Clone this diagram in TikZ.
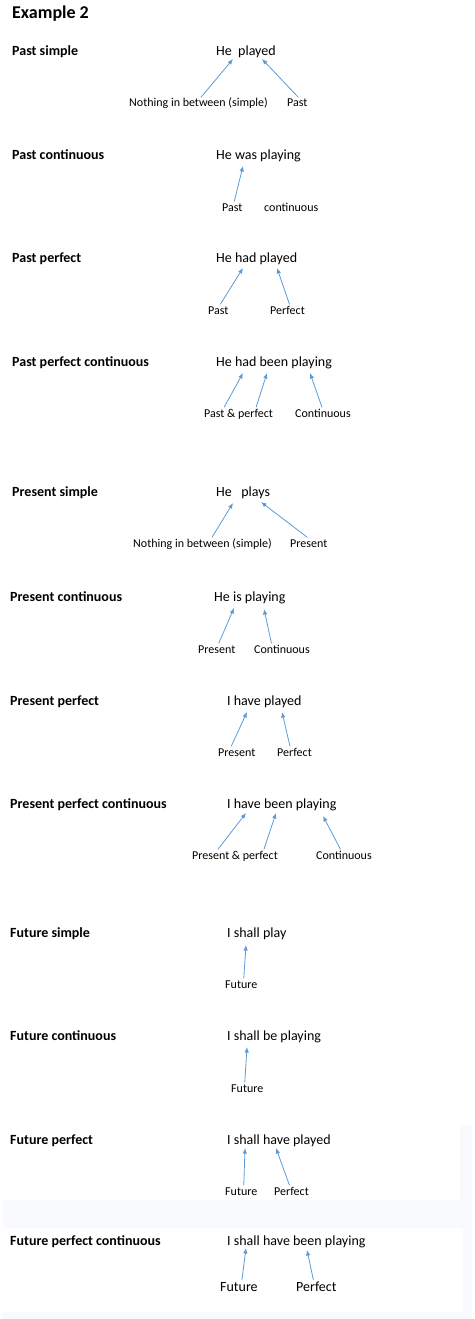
\documentclass[tikz,border=0pt]{standalone}
\usepackage{fontspec}
\setmainfont{Carlito}
\usepackage{tikz}
\usetikzlibrary{arrows.meta}
\definecolor{arrowblue}{RGB}{91,155,213}
\definecolor{panel}{RGB}{249,250,253}

\begin{document}
\begin{tikzpicture}[x=1pt,y=-1pt,
  head/.style={anchor=base west,inner sep=0pt,font=\fontsize{14}{16}\selectfont\bfseries},
  sent/.style={anchor=base west,inner sep=0pt,font=\fontsize{14}{17}\selectfont},
  lbl/.style={anchor=base west,inner sep=1pt,text height=8.5pt,text depth=2pt,font=\fontsize{12}{14}\selectfont},
  biglbl/.style={lbl,text height=10pt,font=\fontsize{14}{17}\selectfont},
  arr/.style={draw=arrowblue,line width=0.8pt,-{Latex[length=5.5pt,width=4.5pt]}}]

\useasboundingbox (0,0) rectangle (474,1319);
\fill[panel] (3,1200) rectangle (472,1319);
\fill[panel] (460,1125) rectangle (472,1200);
\fill[white] (3,1228) rectangle (463,1312);

\node[anchor=base west,inner sep=0pt,font=\fontsize{18}{21}\selectfont\bfseries] (title) at (12,19) {Example 2};

\node[head] (hPS) at (12,56) {Past simple};
\node[sent] (sPS) at (216,56) {He\ \ played};
\node[lbl] (aPS) at (128,107) {Nothing in between (simple)};
\node[lbl] (bPS) at (286,107) {Past};
\coordinate (tPSa) at (233,59);
\coordinate (tPSb) at (262,59);
\draw[arr] ([xshift=2.5]aPS.north) to (tPSa);
\draw[arr] ([xshift=1]bPS.north) to (tPSb);

\node[head] (hPC) at (12,159) {Past continuous};
\node[sent] (sPC) at (216,159) {He was playing};
\node[lbl] (aPC) at (221,211) {Past};
\node[lbl] (bPC) at (263,211) {continuous};
\coordinate (tPCa) at (243,166);
\draw[arr] ([xshift=2]aPC.north) to (tPCa);

\node[head] (hPP) at (12,262) {Past perfect};
\node[sent] (sPP) at (216,262) {He had played};
\node[lbl] (aPP) at (207,314) {Past};
\node[lbl] (bPP) at (269,314) {Perfect};
\coordinate (tPPa) at (243,268);
\coordinate (tPPb) at (277,268);
\draw[arr] ([xshift=2]aPP.north) to (tPPa);
\draw[arr] ([xshift=2]bPP.north) to (tPPb);

\node[head] (hPPC) at (12,366) {Past perfect continuous};
\node[sent] (sPPC) at (216,366) {He had been playing};
\node[lbl] (aPPC) at (203,417) {Past \& perfect};
\node[lbl] (bPPC) at (294,417) {Continuous};
\coordinate (tPPCa) at (243,373);
\coordinate (tPPCb) at (267,373);
\coordinate (tPPCc) at (310,373);
\draw[arr] ([xshift=-14.5]aPPC.north) to (tPPCa);
\draw[arr] ([xshift=17.5]aPPC.north) to (tPPCb);
\draw[arr] ([xshift=-1]bPPC.north) to (tPPCc);

\node[head] (hRS) at (12,496) {Present simple};
\node[sent] (sRS) at (216,496) {He\ \ \ plays};
\node[lbl] (aRS) at (132,547) {Nothing in between (simple)};
\node[lbl] (bRS) at (289,547) {Present};
\coordinate (tRSa) at (233,503);
\coordinate (tRSb) at (261,502);
\draw[arr] ([xshift=9.5]aRS.north) to (tRSa);
\draw[arr] ([xshift=-1.5]bRS.north) to (tRSb);

\node[head] (hRC) at (10,601) {Present continuous};
\node[sent] (sRC) at (214,601) {He is playing};
\node[lbl] (aRC) at (197,653) {Present};
\node[lbl] (bRC) at (253,653) {Continuous};
\coordinate (tRCa) at (234,608);
\coordinate (tRCb) at (264,609);
\draw[arr] ([xshift=2]aRC.north) to (tRCa);
\draw[arr] ([xshift=-10.5]bRC.north) to (tRCb);

\node[head] (hRP) at (10,705) {Present perfect};
\node[sent] (sRP) at (227,705) {I have played};
\node[lbl] (aRP) at (217,756) {Present};
\node[lbl] (bRP) at (276,756) {Perfect};
\coordinate (tRPa) at (247,712);
\coordinate (tRPb) at (282,712);
\draw[arr] ([xshift=-5.5]aRP.north) to (tRPa);
\draw[arr] ([xshift=-4.5]bRP.north) to (tRPb);

\node[head] (hRPC) at (10,808) {Present perfect continuous};
\node[sent] (sRPC) at (227,808) {I have been playing};
\node[lbl] (aRPC) at (191,859) {Present \& perfect};
\node[lbl] (bRPC) at (315,859) {Continuous};
\coordinate (tRPCa) at (246,813);
\coordinate (tRPCb) at (276,813);
\coordinate (tRPCc) at (323,816);
\draw[arr] ([xshift=-17]aRPC.north) to (tRPCa);
\draw[arr] ([xshift=29]aRPC.north) to (tRPCb);
\draw[arr] ([xshift=-3.5]bRPC.north) to (tRPCc);

\node[head] (hFS) at (10,937) {Future simple};
\node[sent] (sFS) at (227,937) {I shall play};
\node[lbl] (aFS) at (224,988) {Future};
\coordinate (tFSa) at (246,945);
\draw[arr] ([xshift=2.5]aFS.north) to (tFSa);

\node[head] (hFC) at (10,1040) {Future continuous};
\node[sent] (sFC) at (227,1040) {I shall be playing};
\node[lbl] (aFC) at (230,1092) {Future};
\coordinate (tFCa) at (247,1047);
\draw[arr] ([xshift=-2.5]aFC.north) to (tFCa);

\node[head] (hFP) at (10,1144) {Future perfect};
\node[sent] (sFP) at (227,1144) {I shall have played};
\node[lbl] (aFP) at (224,1195) {Future};
\node[lbl] (bFP) at (273,1195) {Perfect};
\coordinate (tFPa) at (245,1148);
\coordinate (tFPb) at (276,1148);
\draw[arr] ([xshift=2.5]aFP.north) to (tFPa);
\draw[arr] ([xshift=-2]bFP.north) to (tFPb);

\node[head] (hFPC) at (10,1245) {Future perfect continuous};
\node[sent] (sFPC) at (227,1245) {I shall have been playing};
\node[biglbl] (aFPC) at (219,1291) {Future};
\node[biglbl] (bFPC) at (295,1291) {Perfect};
\coordinate (tFPCa) at (246,1248);
\coordinate (tFPCb) at (307,1250);
\draw[arr] ([xshift=3]aFPC.north) to (tFPCa);
\draw[arr] ([xshift=-3]bFPC.north) to (tFPCb);

\end{tikzpicture}
\end{document}
